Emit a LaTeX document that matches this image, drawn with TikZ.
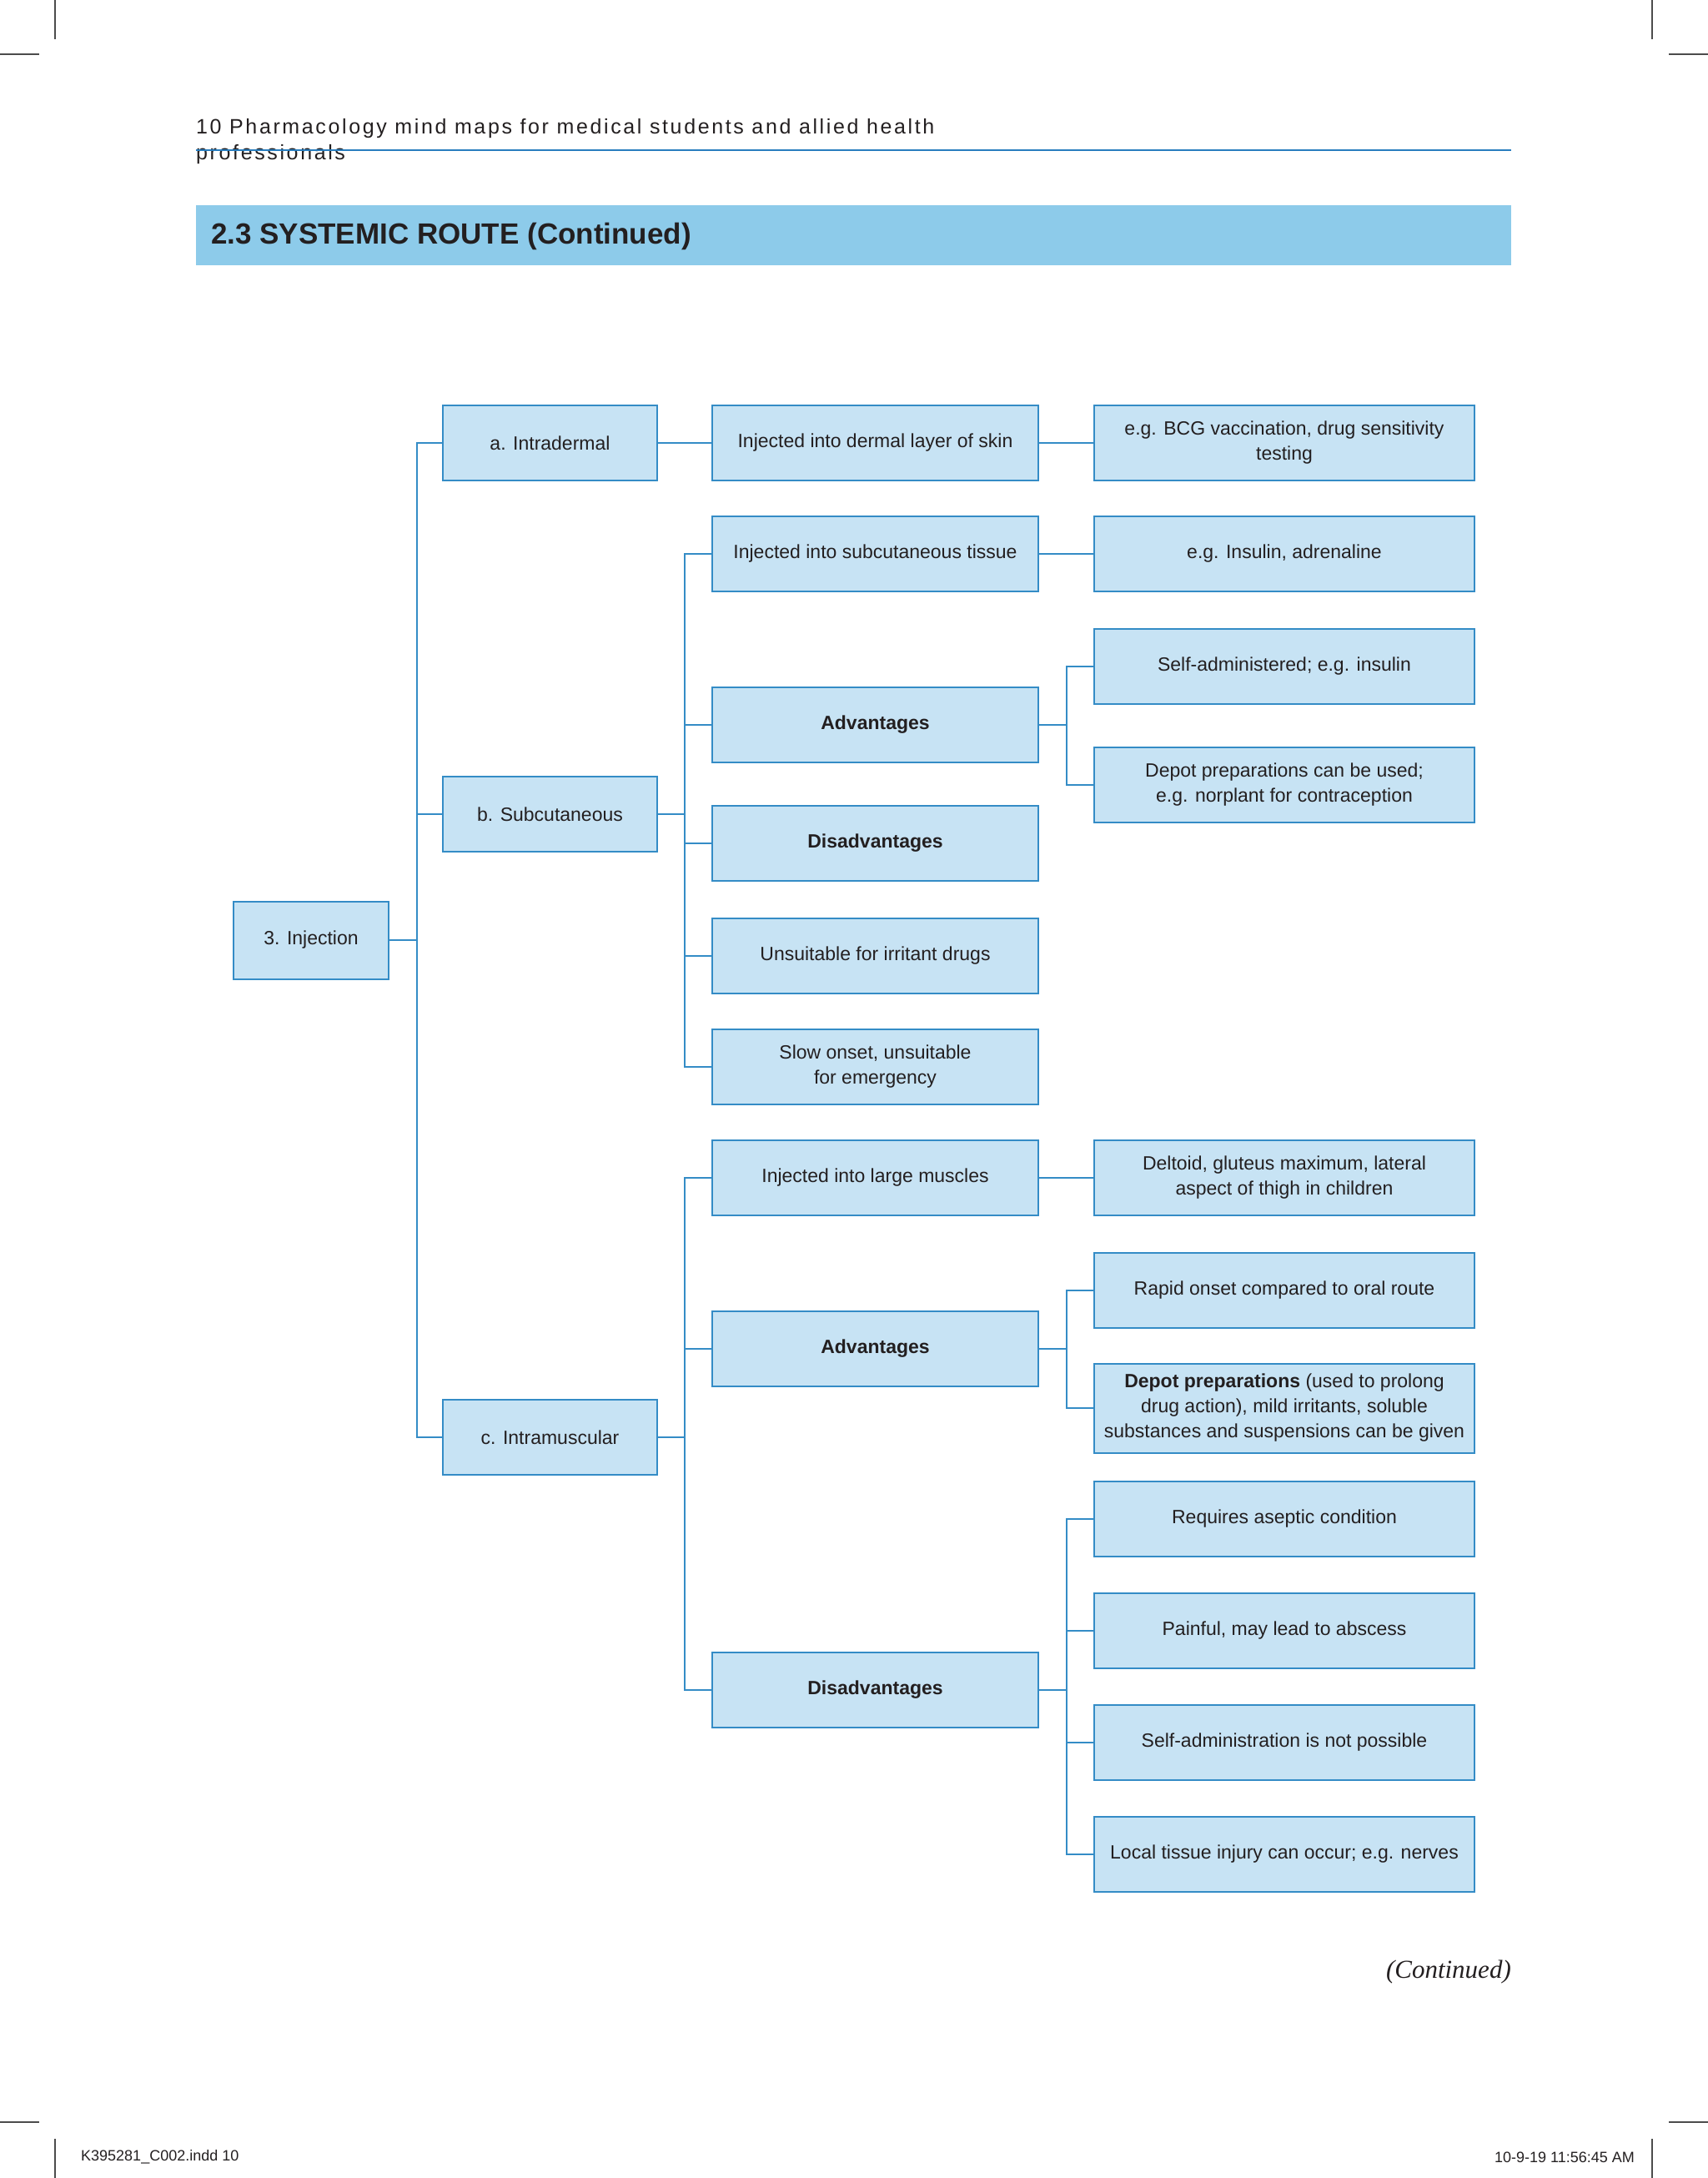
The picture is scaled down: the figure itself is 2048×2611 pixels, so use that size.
\documentclass[tikz,border=0pt]{standalone}
\usepackage{fontspec}
\setmainfont{Liberation Sans}
\newfontfamily\contfont{Liberation Serif}
\usetikzlibrary{positioning}
\definecolor{boxfill}{RGB}{199,227,244}
\definecolor{boxline}{RGB}{52,140,198}
\definecolor{barfill}{RGB}{141,203,234}
\definecolor{ruleblue}{RGB}{40,125,190}
\definecolor{ink}{RGB}{35,31,32}
\tikzset{
  box/.style={draw=boxline, fill=boxfill, line width=2pt, minimum height=90pt,
    inner sep=0pt, outer sep=0pt, align=center, text=ink, font=\fontsize{23}{30}\selectfont},
  root/.style={box, minimum width=186pt, minimum height=93pt},
  kind/.style={box, minimum width=257pt},
  fact/.style={box, minimum width=391pt},
  leaf/.style={box, minimum width=456pt},
  link/.style={draw=boxline, line width=2pt},
  cropline/.style={draw=black!70, line width=1.5pt}
}
\begin{document}
\begin{tikzpicture}[x=1pt, y=-1pt]
\useasboundingbox (0,0) rectangle (2048,2611);
\draw[cropline] (66,0) -- (66,47) (0,65) -- (47,65)
  (1981,0) -- (1981,47) (2001,65) -- (2048,65)
  (0,2544) -- (47,2544) (2001,2544) -- (2048,2544)
  (66,2564) -- (66,2611) (1981,2564) -- (1981,2611);

\node[anchor=base west, inner sep=0pt, text=ink, font=\fontsize{25}{30}\selectfont\addfontfeature{LetterSpace=10.5}] (head) at (235,160) {10 Pharmacology mind maps for medical students and allied health};
\node[anchor=base west, inner sep=0pt, text=ink, font=\fontsize{25}{30}\selectfont\addfontfeature{LetterSpace=10.5}] (head2) at (235,191) {professionals};
\draw[ruleblue, line width=2pt] (235,180) -- (1812,180);

\fill[barfill] (235,246) rectangle (1812,318);
\node[anchor=west, inner sep=0pt, text=ink, font=\fontsize{35}{40}\selectfont\bfseries] (title) at (253,283) {2.3 SYSTEMIC ROUTE (Continued)};

\node[root] (i) at (373,1127) {3. Injection};
\node[kind] (a) at (659.5,531) {a. Intradermal};
\node[kind] (b) at (659.5,976) {b. Subcutaneous};
\node[kind] (c) at (659.5,1723) {c. Intramuscular};

\node[fact, right=66pt of a] (a1) {Injected into dermal layer of skin};
\node[leaf, right=67pt of a1] (a2) {e.g. BCG vaccination, drug sensitivity\\testing};

\node[fact, below=43pt of a1] (b1) {Injected into subcutaneous tissue};
\node[leaf, right=67pt of b1] (b11) {e.g. Insulin, adrenaline};
\node[fact, below=115pt of b1] (b2) {\textbf{Advantages}};
\node[leaf, right=67pt of b2, yshift=70pt] (b21) {Self-administered; e.g. insulin};
\node[leaf, right=67pt of b2, yshift=-72pt] (b22) {Depot preparations can be used;\\e.g. norplant for contraception};
\node[fact, below=52pt of b2] (b3) {\textbf{Disadvantages}};
\node[fact, below=45pt of b3] (b4) {Unsuitable for irritant drugs};
\node[fact, below=43pt of b4] (b5) {Slow onset, unsuitable\\for emergency};

\node[fact, below=43pt of b5] (c1) {Injected into large muscles};
\node[leaf, right=67pt of c1] (c11) {Deltoid, gluteus maximum, lateral\\aspect of thigh in children};
\node[fact, below=115pt of c1] (c2) {\textbf{Advantages}};
\node[leaf, right=67pt of c2, yshift=70pt] (c21) {Rapid onset compared to oral route};
\node[leaf, right=67pt of c2, yshift=-71pt, minimum height=107pt] (c22) {\textbf{Depot preparations} (used to prolong\\drug action), mild irritants, soluble\\substances and suspensions can be given};
\node[fact, below=319pt of c2] (c3) {\textbf{Disadvantages}};
\node[leaf, right=67pt of c3, yshift=205pt] (c31) {Requires aseptic condition};
\node[leaf, below=44pt of c31] (c32) {Painful, may lead to abscess};
\node[leaf, below=44pt of c32] (c33) {Self-administration is not possible};
\node[leaf, below=44pt of c33] (c34) {Local tissue injury can occur; e.g. nerves};

\draw[link] (i.east) -- ++(34,0) |- (a.west)
  (i.east) -- ++(34,0) |- (b.west)
  (i.east) -- ++(34,0) |- (c.west);
\draw[link] (a) -- (a1) (a1) -- (a2) (b1) -- (b11) (c1) -- (c11);
\draw[link] (b.east) -- ++(33,0) |- (b1.west)
  (b.east) -- ++(33,0) |- (b2.west)
  (b.east) -- ++(33,0) |- (b3.west)
  (b.east) -- ++(33,0) |- (b4.west)
  (b.east) -- ++(33,0) |- (b5.west);
\draw[link] (b2.east) -- ++(34,0) |- (b21.west)
  (b2.east) -- ++(34,0) |- (b22.west);
\draw[link] (c.east) -- ++(33,0) |- (c1.west)
  (c.east) -- ++(33,0) |- (c2.west)
  (c.east) -- ++(33,0) |- (c3.west);
\draw[link] (c2.east) -- ++(34,0) |- (c21.west)
  (c2.east) -- ++(34,0) |- (c22.west);
\draw[link] (c3.east) -- ++(34,0) |- (c31.west)
  (c3.east) -- ++(34,0) |- (c32.west)
  (c3.east) -- ++(34,0) |- (c33.west)
  (c3.east) -- ++(34,0) |- (c34.west);

\node[anchor=east, inner sep=0pt, text=ink, font=\contfont\itshape\fontsize{31}{36}\selectfont] (cont) at (1812,2364) {(Continued)};
\node[anchor=west, inner sep=0pt, text=ink, font=\fontsize{18}{22}\selectfont] (file) at (97,2586) {K395281\_C002.indd 10};
\node[anchor=east, inner sep=0pt, text=ink, font=\fontsize{18}{22}\selectfont] (stamp) at (1960,2586) {10-9-19 11:56:45 AM};
\end{tikzpicture}
\end{document}
